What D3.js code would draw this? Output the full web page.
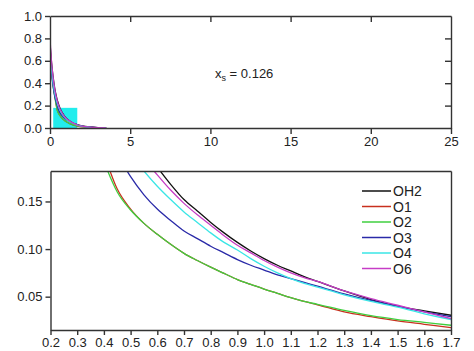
<!DOCTYPE html>
<html lang="en">
<head>
<meta charset="UTF-8">
<script src="https://d3js.org/d3.v7.min.js"></script>
<title>Decay curves</title>
<style>
  body { margin: 0; background: #fff; }
  text { font-family: Arial, "Liberation Sans", sans-serif; fill: #222; }
</style>
</head>
<body>
<script>
  // shared x positions for every series
  const xGrid = [0, 0.1, 0.2, 0.3, 0.4, 0.45, 0.5, 0.55, 0.6, 0.65, 0.7, 0.75, 0.8, 0.85, 0.9, 0.95,
                 1.0, 1.05, 1.1, 1.15, 1.2, 1.3, 1.4, 1.5, 1.6, 1.7, 2.0, 2.5, 3.0, 3.5]

  const OH2 = [0.76, 0.58, 0.45, 0.35, 0.28, 0.25, 0.228, 0.205, 0.186, 0.168, 0.152, 0.140, 0.128, 0.117, 0.107, 0.098,
               0.090, 0.083, 0.077, 0.071, 0.066, 0.056, 0.047, 0.040, 0.035, 0.0305, 0.019, 0.009, 0.004, 0.002]
  const O1  = [0.72, 0.52, 0.38, 0.29, 0.200, 0.163, 0.142, 0.127, 0.1155, 0.105, 0.0955, 0.088, 0.081, 0.0745, 0.068, 0.063,
               0.058, 0.0535, 0.049, 0.045, 0.0415, 0.034, 0.029, 0.0245, 0.021, 0.0175, 0.010, 0.004, 0.002, 0.001]
  const O2  = [0.70, 0.50, 0.37, 0.28, 0.192, 0.160, 0.141, 0.127, 0.1155, 0.105, 0.0955, 0.088, 0.081, 0.0745, 0.068, 0.063,
               0.058, 0.0535, 0.049, 0.045, 0.042, 0.0355, 0.030, 0.026, 0.023, 0.020, 0.012, 0.005, 0.002, 0.001]
  const O3  = [0.60, 0.48, 0.37, 0.28, 0.225, 0.200, 0.176, 0.157, 0.142, 0.130, 0.119, 0.111, 0.103, 0.096, 0.089, 0.083,
               0.078, 0.073, 0.069, 0.065, 0.061, 0.053, 0.046, 0.040, 0.034, 0.029, 0.016, 0.007, 0.003, 0.001]
  const O4  = [0.70, 0.52, 0.40, 0.31, 0.25, 0.222, 0.200, 0.182, 0.166, 0.152, 0.139, 0.128, 0.117, 0.107, 0.099, 0.090,
               0.082, 0.075, 0.069, 0.064, 0.060, 0.052, 0.045, 0.039, 0.032, 0.026, 0.015, 0.006, 0.003, 0.001]
  const O6  = [0.80, 0.58, 0.44, 0.34, 0.27, 0.242, 0.218, 0.195, 0.178, 0.162, 0.148, 0.136, 0.125, 0.114, 0.104, 0.096,
               0.088, 0.081, 0.075, 0.070, 0.066, 0.056, 0.048, 0.041, 0.034, 0.027, 0.016, 0.007, 0.003, 0.001]

  const seriesNames = ["OH2", "O1", "O2", "O3", "O4", "O6"]
  const seriesValues = [OH2, O1, O2, O3, O4, O6]
  const seriesColors = ["#111111", "#c8301e", "#3fcf3f", "#2a2aa8", "#3ae6e6", "#c63cc6"]

  const topXTicks = [0, 5, 10, 15, 20, 25]
  const topYTicks = [0.0, 0.2, 0.4, 0.6, 0.8, 1.0]
  const botXTicks = [0.2, 0.3, 0.4, 0.5, 0.6, 0.7, 0.8, 0.9, 1.0, 1.1, 1.2, 1.3, 1.4, 1.5, 1.6, 1.7]
  const botYTicks = [0.05, 0.10, 0.15]
  const zoomArea = [0.2, 1.7, 0, 0.18]   // x0, x1, y0, y1 of the highlighted box
  const xsValue = "0.126"

  /*==============*/
  /* SVG + scales */
  /*==============*/
  const svg = d3.select("body").append("svg")
                .attr("width", 474)
                .attr("height", 351)

  const topBox = {left: 50, right: 451, top: 16, bottom: 128}
  const botBox = {left: 50.5, right: 451, top: 171, bottom: 330}

  const xTop = d3.scaleLinear().domain([0, 25]).range([topBox.left, topBox.right])
  const yTop = d3.scaleLinear().domain([0, 1]).range([topBox.bottom, topBox.top])
  const xBot = d3.scaleLinear().domain([0.2, 1.7]).range([botBox.left, botBox.right])
  const yBot = d3.scaleLinear().domain([0.015, 0.182]).range([botBox.bottom, botBox.top])

  const defs = svg.append("defs")
  defs.append("clipPath").attr("id", "clipTop").append("rect")
      .attr("x", topBox.left).attr("y", topBox.top)
      .attr("width", topBox.right - topBox.left).attr("height", topBox.bottom - topBox.top)
  defs.append("clipPath").attr("id", "clipBot").append("rect")
      .attr("x", botBox.left).attr("y", botBox.top)
      .attr("width", botBox.right - botBox.left).attr("height", botBox.bottom - botBox.top)

  function styleAxis(g) {
    g.select(".domain").attr("stroke", "#333").attr("stroke-width", 1.4)
    g.selectAll(".tick line").attr("stroke", "#333").attr("stroke-width", 1.4)
    g.selectAll(".tick text").attr("font-size", 13).attr("fill", "#222")
      .style("font-family", "Arial, 'Liberation Sans', sans-serif")
  }

  /*===========*/
  /* Top panel */
  /*===========*/
  svg.append("rect")
    .attr("x", xTop(zoomArea[0]))
    .attr("y", yTop(zoomArea[3]))
    .attr("width", xTop(zoomArea[1]) - xTop(zoomArea[0]))
    .attr("height", yTop(zoomArea[2]) - yTop(zoomArea[3]))
    .attr("fill", "#22eded")

  const lineTop = d3.line()
                    .x((d, i) => xTop(xGrid[i]))
                    .y(d => yTop(d))
                    .curve(d3.curveMonotoneX)

  svg.append("g").attr("clip-path", "url(#clipTop)")
    .selectAll("path")
    .data(seriesValues)
    .enter()
    .append("path")
    .attr("d", d => lineTop(d))
    .attr("fill", "none")
    .attr("stroke", (d, i) => seriesColors[i])
    .attr("stroke-width", 1.3)

  svg.append("g")
    .attr("transform", `translate(0, ${topBox.bottom})`)
    .call(d3.axisBottom(xTop).tickValues(topXTicks).tickSize(6).tickSizeOuter(0).tickPadding(3))
    .call(styleAxis)

  svg.append("g")
    .attr("transform", `translate(${topBox.left}, 0)`)
    .call(d3.axisLeft(yTop).tickValues(topYTicks).tickFormat(d3.format(".1f")).tickSize(5).tickSizeOuter(0).tickPadding(3))
    .call(styleAxis)

  svg.append("g")
    .attr("transform", `translate(0, ${topBox.top})`)
    .call(d3.axisTop(xTop).tickValues(topXTicks.slice(1, -1)).tickFormat("").tickSize(-6).tickSizeOuter(0))
    .call(styleAxis)

  svg.append("g")
    .attr("transform", `translate(${topBox.right}, 0)`)
    .call(d3.axisRight(yTop).tickValues(topYTicks.slice(1, -1)).tickFormat("").tickSize(-6).tickSizeOuter(0))
    .call(styleAxis)

  const note = svg.append("text")
    .attr("x", 215)
    .attr("y", 78)
    .attr("font-size", 13)
  note.append("tspan").text("x")
  note.append("tspan").attr("font-size", 9).attr("dy", 3).text("s")
  note.append("tspan").attr("dy", -3).text(" = " + xsValue)

  /*==============*/
  /* Bottom panel */
  /*==============*/
  const lineBot = d3.line()
                    .x((d, i) => xBot(xGrid[i]))
                    .y(d => yBot(d))
                    .curve(d3.curveMonotoneX)

  svg.append("g").attr("clip-path", "url(#clipBot)")
    .selectAll("path")
    .data(seriesValues)
    .enter()
    .append("path")
    .attr("d", d => lineBot(d))
    .attr("fill", "none")
    .attr("stroke", (d, i) => seriesColors[i])
    .attr("stroke-width", 1.3)

  svg.append("g")
    .attr("transform", `translate(0, ${botBox.bottom})`)
    .call(d3.axisBottom(xBot).tickValues(botXTicks).tickFormat(d3.format(".1f")).tickSize(5).tickSizeOuter(0).tickPadding(3))
    .call(styleAxis)

  svg.append("g")
    .attr("transform", `translate(${botBox.left}, 0)`)
    .call(d3.axisLeft(yBot).tickValues(botYTicks).tickFormat(d3.format(".2f")).tickSize(5).tickSizeOuter(0).tickPadding(3))
    .call(styleAxis)

  svg.append("g")
    .attr("transform", `translate(0, ${botBox.top})`)
    .call(d3.axisTop(xBot).tickValues([]).tickSizeOuter(0))
    .call(styleAxis)

  svg.append("g")
    .attr("transform", `translate(${botBox.right}, 0)`)
    .call(d3.axisRight(yBot).tickValues([]).tickSizeOuter(0))
    .call(styleAxis)

  /*========*/
  /* Legend */
  /*========*/
  const legend = svg.append("g").attr("transform", "translate(362, 191)")
  const rows = legend.selectAll("g")
    .data(seriesNames)
    .enter()
    .append("g")
    .attr("transform", (d, i) => `translate(0, ${i * 15.5})`)
  rows.append("line")
    .attr("x1", 0).attr("x2", 29)
    .attr("stroke", (d, i) => seriesColors[i])
    .attr("stroke-width", 1.5)
  rows.append("text")
    .attr("x", 31)
    .attr("dy", "0.36em")
    .attr("font-size", 14)
    .text(d => d)
</script>
</body>
</html>
